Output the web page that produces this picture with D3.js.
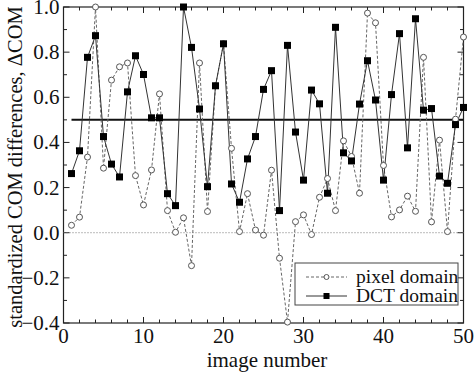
<!DOCTYPE html>
<html>
<head>
<meta charset="utf-8">
<script src="https://cdn.jsdelivr.net/npm/d3@7"></script>
<style>
html,body{margin:0;padding:0;background:#fff;}
svg{display:block;}
</style>
</head>
<body>
<svg id="chart" width="474" height="374" font-family="'Liberation Serif', 'DejaVu Serif', 'Times New Roman', serif"></svg>
<script>
const imageNumbers = d3.range(1, 51);
const pixelDomain = [0.033,0.069,0.335,1.0,0.286,0.676,0.735,0.752,0.253,0.123,
  0.278,0.615,0.098,0.002,0.066,-0.146,0.752,0.094,0.651,0.837,
  0.374,0.005,0.173,0.012,-0.011,0.277,-0.113,-0.396,0.049,0.079,
  -0.008,0.157,0.240,0.098,0.407,0.338,0.175,0.973,0.930,0.298,
  0.070,0.101,0.162,0.095,0.777,0.048,0.410,0.005,0.503,0.867];
const dctDomain = [0.262,0.363,0.777,0.873,0.426,0.304,0.247,0.624,0.784,0.701,
  0.509,0.509,0.173,0.120,1.0,0.821,0.548,0.204,0.651,0.837,
  0.216,0.135,0.327,0.426,0.635,0.718,0.098,0.830,0.446,0.233,
  0.632,0.571,0.175,0.910,0.354,0.318,0.570,0.762,0.588,0.233,
  0.612,0.882,0.376,0.948,0.543,0.550,0.251,0.219,0.479,0.555];
const thresholdLine = 0.5;
const zeroLine = 0.0;
const xMajorTicks = [0,10,20,30,40,50];
const yMajorTicks = [-0.4,-0.2,0.0,0.2,0.4,0.6,0.8,1.0];
const legendLabels = ["pixel domain","DCT domain"];
const xTitle = "image number";
const yTitle = "standardized COM differences, \u0394COM";

const svg = d3.select("#chart");
const L = 63.5, R = 463.5, T = 7, B = 323;
const x = d3.scaleLinear().domain([0,50]).range([L,R]);
const y = d3.scaleLinear().domain([-0.4,1.0]).range([B,T]);

// frame
svg.append("rect").attr("x",L).attr("y",T).attr("width",R-L).attr("height",B-T)
  .attr("fill","none").attr("stroke","#222").attr("stroke-width",1.2);

// ticks (inward, all sides)
const xMinor = d3.range(0,51,2);
const yMinor = d3.range(-4,11).map(v=>v/10);
const tg = svg.append("g").attr("stroke","#222").attr("stroke-width",1);
xMinor.forEach(v=>{
  const major = v % 10 === 0;
  const len = major ? 6 : 3.5;
  tg.append("line").attr("x1",x(v)).attr("x2",x(v)).attr("y1",B).attr("y2",B-len);
  tg.append("line").attr("x1",x(v)).attr("x2",x(v)).attr("y1",T).attr("y2",T+len);
});
yMinor.forEach(v=>{
  const major = Math.abs(Math.round(v*10)) % 2 === 0;
  const len = major ? 6 : 3.5;
  tg.append("line").attr("y1",y(v)).attr("y2",y(v)).attr("x1",L).attr("x2",L+len);
  tg.append("line").attr("y1",y(v)).attr("y2",y(v)).attr("x1",R).attr("x2",R-len);
});

// tick labels
const fmt = d3.format(".1f");
svg.append("g").selectAll("text").data(xMajorTicks).join("text")
  .attr("x",d=>x(d)).attr("y",B+20).attr("text-anchor","middle")
  .attr("font-size",21).attr("fill","#111").text(d=>d);
svg.append("g").selectAll("text").data(yMajorTicks).join("text")
  .attr("x",L-4).attr("y",d=>y(d)+7).attr("text-anchor","end")
  .attr("font-size",21).attr("fill","#111").text(d=>fmt(d));

// axis titles
svg.append("text").attr("x",267).attr("y",367).attr("text-anchor","middle")
  .attr("font-size",21).attr("fill","#111").text(xTitle);
svg.append("text").attr("transform",`translate(22,${(T+B)/2+2}) rotate(-90)`)
  .attr("text-anchor","middle").attr("font-size",20.5).attr("fill","#111").text(yTitle);

// reference lines
svg.append("line").attr("x1",x(0)).attr("x2",x(50)).attr("y1",y(zeroLine)).attr("y2",y(zeroLine))
  .attr("stroke","#777").attr("stroke-width",1).attr("stroke-dasharray","1,2");
svg.append("line").attr("x1",x(1)).attr("x2",x(50)).attr("y1",y(thresholdLine)).attr("y2",y(thresholdLine))
  .attr("stroke","#111").attr("stroke-width",2);

const line = d3.line().x((d,i)=>x(imageNumbers[i])).y(d=>y(d));

// pixel domain
svg.append("path").datum(pixelDomain).attr("d",line).attr("fill","none")
  .attr("stroke","#666").attr("stroke-width",1).attr("stroke-dasharray","3,2");
// DCT domain
svg.append("path").datum(dctDomain).attr("d",line).attr("fill","none")
  .attr("stroke","#333").attr("stroke-width",1);

svg.append("g").selectAll("circle").data(pixelDomain).join("circle")
  .attr("cx",(d,i)=>x(imageNumbers[i])).attr("cy",d=>y(d)).attr("r",3)
  .attr("fill","#fff").attr("stroke","#555").attr("stroke-width",1);
const s = 7;
svg.append("g").selectAll("rect").data(dctDomain).join("rect")
  .attr("x",(d,i)=>x(imageNumbers[i])-s/2).attr("y",d=>y(d)-s/2)
  .attr("width",s).attr("height",s).attr("fill","#000");

// legend
const lg = svg.append("g");
lg.append("rect").attr("x",295).attr("y",263).attr("width",163).attr("height",42)
  .attr("fill","#fff").attr("stroke","#444").attr("stroke-width",1);
const rows = [277, 296];
lg.append("line").attr("x1",306).attr("x2",347).attr("y1",rows[0]).attr("y2",rows[0])
  .attr("stroke","#666").attr("stroke-dasharray","3,2");
lg.append("circle").attr("cx",326.5).attr("cy",rows[0]).attr("r",2.5)
  .attr("fill","#fff").attr("stroke","#555");
lg.append("line").attr("x1",306).attr("x2",347).attr("y1",rows[1]).attr("y2",rows[1])
  .attr("stroke","#333");
lg.append("rect").attr("x",326.5-3).attr("y",rows[1]-3).attr("width",6).attr("height",6).attr("fill","#000");
lg.selectAll("text.lab").data(legendLabels).join("text").attr("class","lab")
  .attr("x",356).attr("y",(d,i)=>rows[i]+6).attr("font-size",19.5).attr("fill","#111").text(d=>d);
</script>
</body>
</html>
